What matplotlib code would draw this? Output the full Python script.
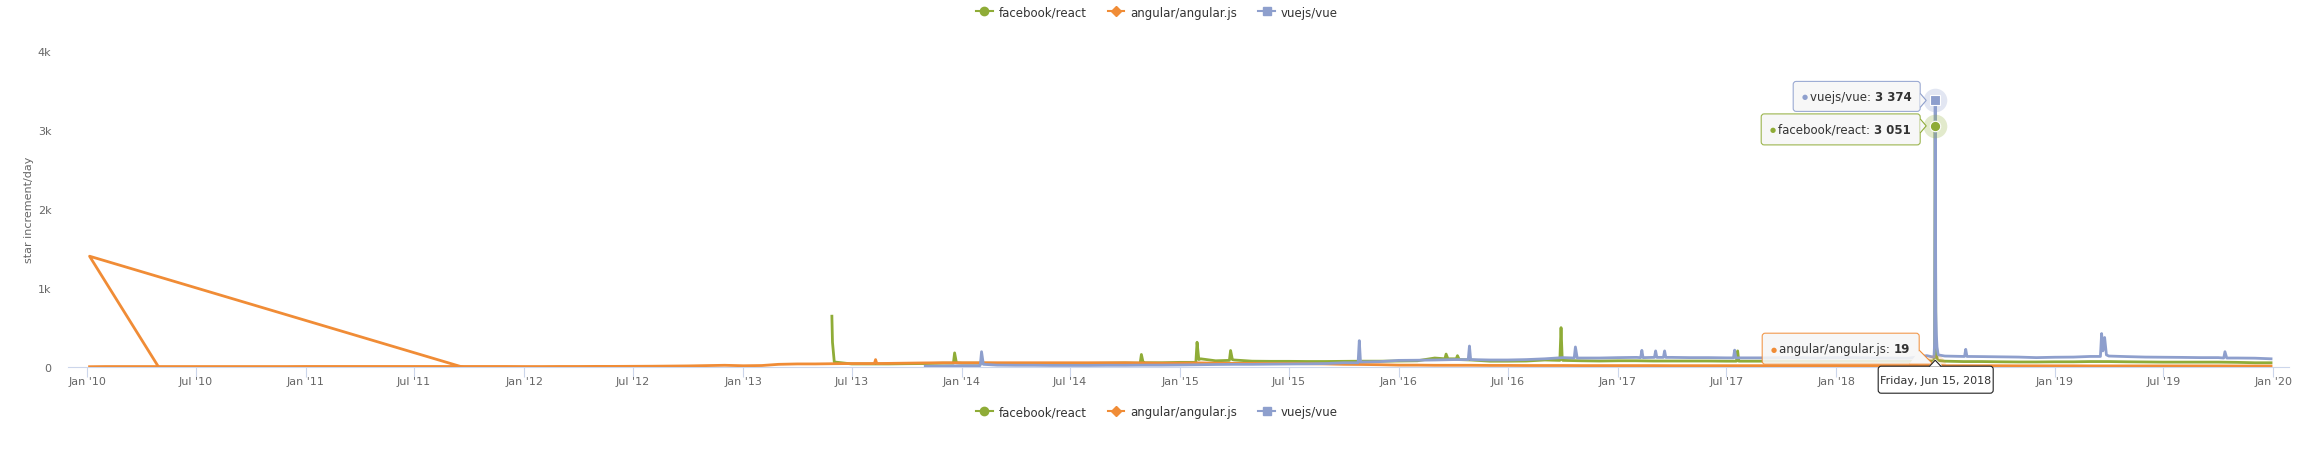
"""Daily star increments of three front-end repositories."""

import matplotlib

matplotlib.use("Agg")
import matplotlib.dates as mdates
import pandas as pd
from matplotlib import pyplot as plt
from matplotlib.lines import Line2D
from matplotlib.patches import FancyBboxPatch, Polygon
from matplotlib.ticker import FuncFormatter
from matplotlib.transforms import IdentityTransform

# ---- data (stars gained per day) ----
series_names = ["facebook/react", "angular/angular.js", "vuejs/vue"]
series_colors = ["#8fac37", "#f08c36", "#8e9fcd"]

# monthly levels, first value is the month given in *_start
react_start = "2013-07-01"
react_monthly = [
    35, 35, 35, 38, 40, 45,
    45, 45, 42, 42, 42, 40, 40, 42, 45, 48, 50, 50,
    55, 90, 75, 85, 70, 68, 68, 66, 66, 68, 70, 70,
    72, 75, 110, 100, 85, 70, 70, 72, 85, 80, 75, 72,
    75, 75, 72, 72, 72, 72, 70, 70, 70, 70, 70, 68,
    70, 70, 70, 70, 68, 75, 70, 65, 65, 62, 60, 60,
    62, 62, 65, 65, 62, 60, 58, 58, 58, 58, 55, 50,
]
react_extra_dates = [
    "2013-05-29", "2013-05-30", "2013-06-02",
    "2013-12-18", "2013-12-20", "2013-12-23",
    "2014-10-26", "2014-10-28", "2014-10-31",
    "2015-01-27", "2015-01-29", "2015-01-31", "2015-02-04",
    "2015-03-24", "2015-03-26", "2015-03-29",
    "2016-03-18", "2016-03-20", "2016-03-23",
    "2016-04-06", "2016-04-08", "2016-04-11",
    "2016-09-26", "2016-09-28", "2016-09-30",
    "2017-07-18", "2017-07-20", "2017-07-22",
    "2018-06-13", "2018-06-14", "2018-06-15", "2018-06-16", "2018-06-17", "2018-06-19",
    "2019-12-28",
]
react_extra_values = [
    640, 310, 60,
    45, 175, 50,
    45, 155, 50,
    55, 310, 160, 100,
    80, 205, 90,
    100, 160, 100,
    100, 140, 90,
    80, 495, 90,
    70, 200, 70,
    70, 200, 3051, 380, 150, 80,
    50,
]

angular_start = "2010-02-01"
angular_monthly = [
    2, 2, 2, 2, 2, 2, 2, 2, 2, 2, 2,
    3, 3, 3, 3, 3, 3, 3, 3, 3, 3, 3, 3,
    2, 2, 3, 3, 4, 4, 5, 6, 8, 10, 14, 18,
    12, 15, 30, 35, 35, 38, 40, 40, 42, 45, 48, 50,
    50, 50, 50, 50, 50, 50, 50, 50, 50, 50, 48, 45,
    45, 48, 45, 42, 42, 40, 40, 38, 35, 30, 28, 25,
    20, 20, 18, 18, 18, 16, 16, 15, 15, 15, 14, 14,
    14, 14, 14, 13, 13, 13, 13, 13, 13, 12, 12, 12,
    12, 12, 12, 12, 12, 12, 12, 12, 12, 12, 11, 11,
    11, 11, 10, 10, 10, 10, 10, 10, 10, 10, 9, 9,
]
angular_extra_dates = [
    "2010-01-05",
    "2013-08-08", "2013-08-10", "2013-08-12",
    "2018-06-15",
    "2019-12-28",
]
angular_extra_values = [0, 40, 90, 40, 19, 9]
# odd early records that the line joins out of order
angular_glitch_dates = ["2010-04-30", "2010-01-05", "2011-09-18"]
angular_glitch_values = [0, 1400, 0]

vue_start = "2013-11-01"
vue_monthly = [
    5, 8,
    12, 25, 20, 18, 18, 16, 16, 16, 18, 18, 20, 20,
    22, 25, 28, 30, 30, 32, 34, 36, 40, 50, 60, 65,
    80, 82, 85, 90, 90, 85, 85, 90, 100, 115, 110, 110,
    115, 118, 118, 118, 115, 115, 112, 112, 112, 115, 115, 110,
    115, 115, 112, 110, 108, 140, 135, 130, 128, 125, 122, 115,
    120, 122, 130, 135, 128, 122, 120, 118, 115, 115, 110, 108,
]
vue_extra_dates = [
    "2014-01-31", "2014-02-03", "2014-02-06",
    "2015-10-25", "2015-10-27", "2015-10-29",
    "2016-04-26", "2016-04-28", "2016-04-30",
    "2016-10-20", "2016-10-22", "2016-10-25",
    "2017-02-08", "2017-02-10", "2017-02-12",
    "2017-03-03", "2017-03-05", "2017-03-07",
    "2017-03-18", "2017-03-20", "2017-03-22",
    "2017-07-13", "2017-07-15", "2017-07-17",
    "2018-06-13", "2018-06-14", "2018-06-15", "2018-06-16", "2018-06-17",
    "2018-06-18", "2018-06-20",
    "2018-08-03", "2018-08-05", "2018-08-07",
    "2019-03-18", "2019-03-20", "2019-03-22", "2019-03-25", "2019-03-28",
    "2019-10-10", "2019-10-12", "2019-10-15",
    "2019-12-28",
]
vue_extra_values = [
    12, 190, 30,
    50, 330, 60,
    90, 262, 90,
    110, 250, 110,
    115, 207, 115,
    118, 200, 118,
    118, 200, 118,
    112, 210, 112,
    120, 300, 3374, 700, 400,
    250, 150,
    130, 220, 130,
    130, 420, 200, 370, 150,
    110, 190, 110,
    100,
]

hover_date = "2018-06-15"
y_ticks = [0, 1000, 2000, 3000, 4000]


def build_series(start, monthly, extra_dates, extra_values):
    dates = list(pd.date_range(start, periods=len(monthly), freq="MS"))
    dates += list(pd.to_datetime(extra_dates))
    return pd.Series(list(monthly) + list(extra_values), index=dates).sort_index()


react = build_series(react_start, react_monthly, react_extra_dates, react_extra_values)
angular = build_series(
    angular_start, angular_monthly, angular_extra_dates, angular_extra_values
)
vue = build_series(vue_start, vue_monthly, vue_extra_dates, vue_extra_values)

# ---- figure ----
W, H = 2314, 456
fig = plt.figure(figsize=(W / 100, H / 100), dpi=100)
plt.rcParams["font.family"] = ["DejaVu Sans"]
ax = fig.add_axes([68 / W, 1 - 367.7 / H, (2289 - 68) / W, (367.7 - 52) / H])

react_c, angular_c, vue_c = series_colors
lw = 2
ax.plot(react.index, react.values, color=react_c, lw=lw, zorder=2)
ax.plot(angular.index, angular.values, color=angular_c, lw=lw, zorder=3)
ax.plot(
    pd.to_datetime(angular_glitch_dates), angular_glitch_values,
    color=angular_c, lw=lw, zorder=3,
)
ax.plot(vue.index, vue.values, color=vue_c, lw=lw, zorder=4)

hd = pd.Timestamp(hover_date)
hx = mdates.date2num(hd)


def x_label(v, _):
    d = mdates.num2date(v)
    # the tick label just right of the hovered day sits under the date box
    if abs(v - hx) < 30:
        return ""
    return d.strftime("%b '%y")


ax.set_xlim(pd.Timestamp("2009-11-30"), pd.Timestamp("2020-01-27"))
ax.set_ylim(0, 4000)
ax.set_yticks(y_ticks)
ax.yaxis.set_major_formatter(
    FuncFormatter(lambda v, _: "0" if v == 0 else f"{int(v / 1000)}k")
)
ax.xaxis.set_major_locator(mdates.MonthLocator(bymonth=[1, 7]))
ax.xaxis.set_major_formatter(FuncFormatter(x_label))
for side in ["top", "right", "left"]:
    ax.spines[side].set_visible(False)
ax.spines["bottom"].set_color("#ccd6eb")
ax.spines["bottom"].set_linewidth(0.8)
ax.tick_params(axis="x", length=7, width=0.8, color="#ccd6eb",
               labelsize=8, labelcolor="#666666", pad=0)
ax.tick_params(axis="y", length=0, labelsize=8, labelcolor="#666666", pad=12)
ax.set_ylabel("star increment/day", fontsize=8, color="#666666", labelpad=3)

# ---- hover markers ----
ax.plot(hx, vue[hd], "o", ms=17, color=vue_c, alpha=0.25, mew=0, zorder=6, clip_on=False)
ax.plot(hx, vue[hd], "s", ms=7.5, color=vue_c, mec="white", mew=0.8, zorder=7, clip_on=False)
ax.plot(hx, react[hd], "o", ms=17, color=react_c, alpha=0.25, mew=0, zorder=6, clip_on=False)
ax.plot(hx, react[hd], "o", ms=7.5, color=react_c, mec="white", mew=0.8, zorder=7, clip_on=False)
ax.plot(hx, angular[hd], "o", ms=15, color=angular_c, alpha=0.2, mew=0, zorder=6, clip_on=False)
ax.plot(hx, angular[hd], "D", ms=6, color=angular_c, mec="white", mew=0.8, zorder=7, clip_on=False)

# ---- legends (top and bottom) ----
markers = ["o", "D", "s"]
handles = [
    Line2D([], [], color=c, lw=1.5, marker=m, ms=6 if m != "D" else 5)
    for c, m in zip(series_colors, markers)
]
for yc in [13, 413]:
    fig.legend(
        handles, series_names, loc="center", bbox_to_anchor=(0.5, 1 - yc / H),
        ncol=3, frameon=False, fontsize=8.5, labelcolor="#333333",
        handlelength=1.4, handletextpad=0.5, columnspacing=1.8,
    )

# ---- tooltips drawn in pixel coordinates (y measured from the top) ----
ident = IdentityTransform()
renderer = fig.canvas.get_renderer()


def anchor(value):
    x, y = ax.transData.transform((hx, value))
    return x, H - y


def box(x0, y0, x1, y1, ec, fc="#f7f7f7", alpha=0.88):
    fig.add_artist(FancyBboxPatch(
        (x0, H - y1), x1 - x0, y1 - y0, boxstyle="round,pad=0,rounding_size=3",
        transform=ident, fc=fc, ec=ec, lw=0.8, alpha=alpha, zorder=5,
    ))


def pointer(points, ec, fc="#f7f7f7"):
    fig.add_artist(Polygon(
        [(x, H - y) for x, y in points], closed=False, transform=ident,
        fc=fc, ec=ec, lw=0.8, zorder=5,
    ))


def label(x0, yc, color, name, value):
    fig.text(x0 + 8, H - yc, "\u25cf", transform=ident, color=color,
             fontsize=5, va="center", zorder=6)
    t = fig.text(x0 + 17, H - yc, f"{name}: ", transform=ident, color="#333333",
                 fontsize=8.5, va="center", zorder=6)
    end = t.get_window_extent(renderer).x1
    fig.text(end, H - yc, f"{value:,}".replace(",", " "), transform=ident,
             color="#333333", fontsize=8.5, fontweight="bold", va="center", zorder=6)


# vuejs/vue
ax_, ay = anchor(vue[hd])
box(ax_ - 142, ay - 19, ax_ - 15, ay + 11, vue_c)
pointer([(ax_ - 15, ay - 7), (ax_ - 9, ay), (ax_ - 15, ay + 7)], vue_c)
label(ax_ - 142, ay - 4, vue_c, series_names[2], vue[hd])

# facebook/react
ax_, ay = anchor(react[hd])
box(ax_ - 174, ay - 12, ax_ - 15, ay + 19, react_c)
pointer([(ax_ - 15, ay - 7), (ax_ - 9, ay), (ax_ - 15, ay + 7)], react_c)
label(ax_ - 174, ay + 3.5, react_c, series_names[0], react[hd])

# angular/angular.js
ax_, ay = anchor(angular[hd])
box(ax_ - 173, ay - 32, ax_ - 16, ay - 1, angular_c)
pointer([(ax_ - 16, ay - 15), (ax_ - 2, ay - 1), (ax_ - 26, ay - 1)], angular_c)
label(ax_ - 173, ay - 16.5, angular_c, series_names[1], angular[hd])

# date label
box(ax_ - 57, ay + 1, ax_ + 58, ay + 28, "#222222", fc="white", alpha=1.0)
pointer([(ax_ - 6, ay + 1.4), (ax_, ay - 5), (ax_ + 6, ay + 1.4)], "#222222", fc="white")
fig.text(ax_ + 0.5, H - (ay + 14.5), hd.strftime("%A, %b %d, %Y"), transform=ident,
         color="#333333", fontsize=8, ha="center", va="center", zorder=6)

fig.savefig("out.png", dpi=100)
